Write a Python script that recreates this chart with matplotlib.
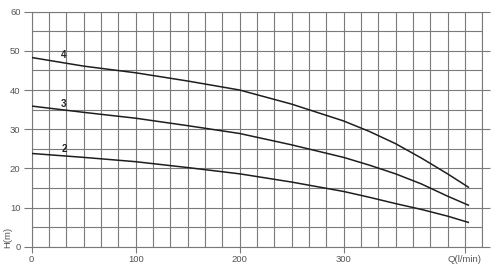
import numpy as np
import matplotlib
matplotlib.use("Agg")
import matplotlib.pyplot as plt

# ------------------------------------------------------------------
# Pump curves (Q in l/min, H in m)
# ------------------------------------------------------------------
flow = [0, 50, 100, 150, 200, 250, 300, 325, 350, 375, 400, 420]
head_4 = [48.3, 46.1, 44.4, 42.3, 40.0, 36.4, 32.1, 29.4, 26.3, 22.6, 18.6, 15.2]
head_3 = [35.9, 34.3, 32.8, 30.9, 28.9, 26.0, 22.8, 20.8, 18.6, 16.0, 12.9, 10.6]
head_2 = [23.8, 22.8, 21.7, 20.2, 18.6, 16.5, 14.1, 12.6, 11.0, 9.5, 7.8, 6.2]

curve_names = ["4", "3", "2"]
label_q = 31
label_h = [48.9, 36.4, 24.9]

x_ticks = [0, 100, 200, 300, 416.67]
x_ticklabels = ["0", "100", "200", "300", "Q(l/min)"]
y_ticks = [0, 10, 20, 30, 40, 50, 60]

GRID = "#7a7a7a"
TEXT = "#555555"

plt.rcParams.update({
    "font.family": ["Liberation Sans", "DejaVu Sans"],
    "font.size": 6.8,
})

fig = plt.figure(figsize=(5, 2.75), dpi=100)
ax = fig.add_axes([0.0634, 0.103, 0.901, 0.8545])

for heads in (head_4, head_3, head_2):
    ax.plot(flow, heads, color="#1e1e1e", lw=1.1, zorder=3)

for name, h in zip(curve_names, label_h):
    ax.text(label_q, h, name, ha="center", va="center",
            fontsize=7, fontweight="bold", color="#222222", zorder=4)

ax.set_xlim(0, 433.33)
ax.set_ylim(0, 60)

ax.set_xticks(x_ticks)
ax.set_xticklabels(x_ticklabels)
ax.set_xticks(np.arange(0, 434, 100 / 6), minor=True)
ax.set_yticks(y_ticks)
ax.set_yticks(np.arange(0, 61, 5), minor=True)

ax.grid(True, which="both", color=GRID, lw=0.8)
ax.set_axisbelow(True)

for side in ax.spines.values():
    side.set_color(GRID)
    side.set_linewidth(0.8)

ax.tick_params(axis="x", which="major", length=4, width=0.8, color=GRID,
               labelcolor=TEXT, pad=2)
ax.tick_params(axis="y", which="major", left=True, right=True, length=4,
               width=0.8, color=GRID, labelcolor=TEXT, pad=2)
ax.tick_params(axis="y", which="major", right=True, length=6)
ax.tick_params(which="minor", length=0)

fig.text(0.016, 1 - 237 / 275, "H(m)", rotation=90, ha="center", va="center",
         fontsize=6.8, color=TEXT)

fig.savefig("out.png", dpi=100)
